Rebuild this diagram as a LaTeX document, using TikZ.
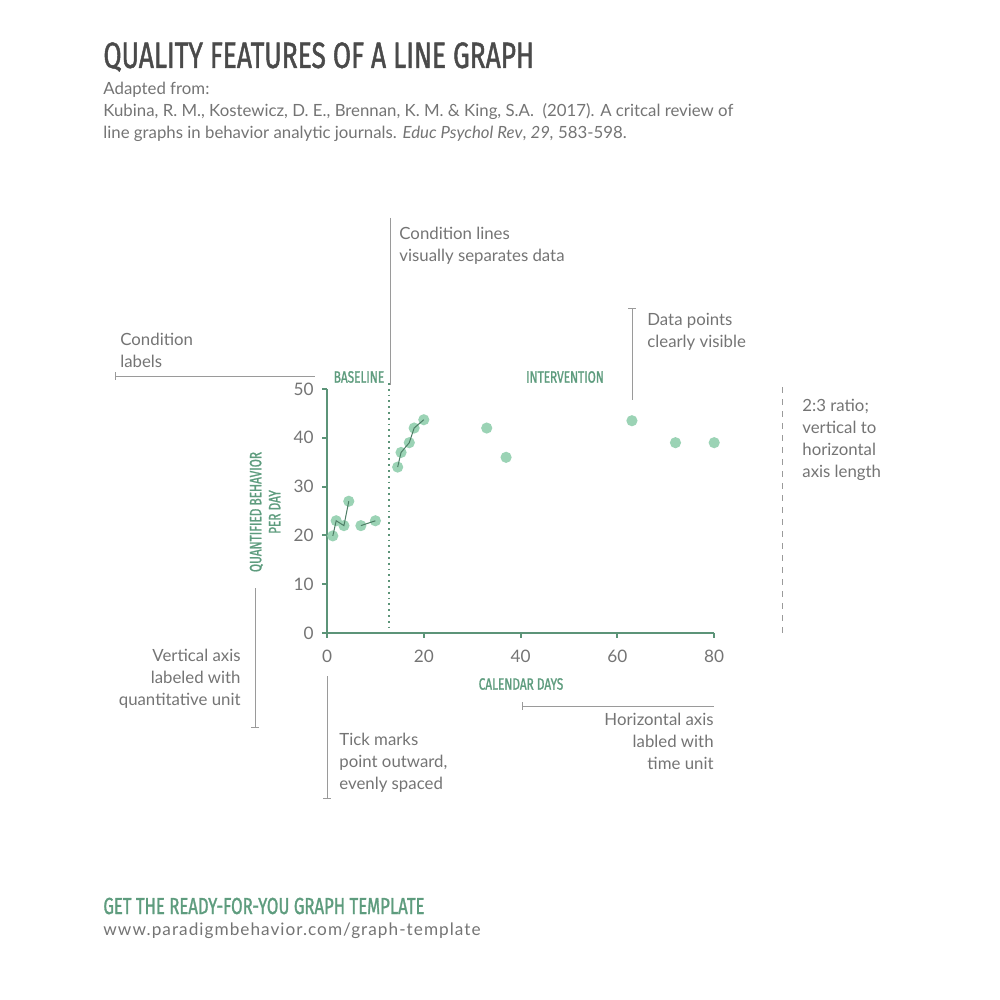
\documentclass[tikz,border=0pt]{standalone}
\usepackage{fontspec}
\setmainfont{Lato}
\newfontfamily\condb[FakeStretch=0.72,FakeBold=1.2]{Fira Sans}
\definecolor{txt}{HTML}{747474}
\definecolor{ttl}{HTML}{4A4A4A}
\definecolor{axg}{HTML}{5C9478}
\definecolor{dot}{HTML}{9BD3B5}
\definecolor{lbl}{HTML}{5E9C7E}
\definecolor{ann}{HTML}{9A9A9A}
\tikzset{
 body/.style={text=txt,font=\fontsize{8.4}{11}\selectfont,inner sep=0pt,align=left},
 glbl/.style={text=lbl,font=\condb\fontsize{8.2}{9.5}\selectfont,inner sep=0pt,align=center},
 tk/.style={text=txt,font=\fontsize{8.6}{10}\selectfont,inner sep=0pt},
 annl/.style={draw=ann,line width=0.5pt},
 pt/.style={circle,fill=dot,inner sep=0pt,minimum size=5.6pt},
 conn/.style={draw=axg!85!black,line width=0.5pt}
}
\begin{document}
\begin{tikzpicture}[x=0.5pt,y=-0.5pt]
\useasboundingbox (0,0) rectangle (1000,1000);
\node[anchor=west,inner sep=0pt,text=ttl,font=\condb\fontsize{18.3}{21}\selectfont] (title) at (103,57) {QUALITY FEATURES OF A LINE GRAPH};
\node[body,anchor=north west] (ref) at (103,82) {Adapted from:\\Kubina, R. M., Kostewicz, D. E., Brennan, K. M. \& King, S.A.\ \ (2017). A critcal review of\\line graphs in behavior analytic journals. \textit{Educ Psychol Rev}, \textit{29,} 583-598.};
% axes
\draw[axg,line width=1.3pt] (327,389) -- (327,633) -- (714,633);
\foreach \v in {0,10,...,50} {\draw[axg,line width=1pt] (327,633-4.88*\v) -- (322,633-4.88*\v);
 \node[tk,anchor=east] at (314,633-4.88*\v) {\v};}
\foreach \d in {0,20,40,60,80} {\draw[axg,line width=1pt] (327+4.84*\d,633) -- (327+4.84*\d,638);
 \node[tk] at (327+4.84*\d,656) {\d};}
\draw[axg,line width=0.9pt,dotted] (389,383) -- (389,633);
\node[glbl] (bl) at (359,377) {BASELINE};
\node[glbl] (iv) at (565,377) {INTERVENTION};
\node[glbl] (xl) at (521,684) {CALENDAR DAYS};
\node[glbl,rotate=90] (yl) at (265,512) {QUANTIFIED BEHAVIOR\\PER DAY};
% data
\foreach \n/\d/\v in {a/1.2/19.9,b/1.9/23,c/3.5/22,d/4.5/27,e/7/22,f/10/23,g/14.6/34,h/15.3/37,i/17/39,j/18/42,k/20/43.7,l/33/42,m/37/36,n/63/43.5,o/72/39,p/80/39}
 \node[pt] (\n) at (327+4.84*\d,633-4.88*\v) {};
\draw[conn] (a.center)--(b.center)--(c.center)--(d.center) (e.center)--(f.center) (g.center)--(h.center)--(i.center)--(j.center)--(k.center);
% annotations
\draw[annl] (390,218) -- (390,385);
\node[body,anchor=north west] (t1) at (399,227) {Condition lines\\visually separates data};
\draw[annl] (115,376) -- (315,376) (115,372) -- (115,380);
\node[body,anchor=north west] (t2) at (120,333) {Condition\\labels};
\draw[annl] (632,308) -- (632,400) (628,308) -- (636,308);
\node[body,anchor=north west] (t3) at (647,313) {Data points\\clearly visible};
\draw[annl,dashed] (782,387) -- (782,633);
\node[body,anchor=north west] (t4) at (802,399) {2:3 ratio;\\vertical to\\horizontal\\axis length};
\draw[annl] (255,588) -- (255,727) (251,727) -- (259,727);
\node[body,anchor=north east,align=right] (t5) at (241,649) {Vertical axis\\labeled with\\quantitative unit};
\draw[annl] (327,676) -- (327,798) (323,798) -- (331,798);
\node[body,anchor=north west] (t6) at (339,733) {Tick marks\\point outward,\\evenly spaced};
\draw[annl] (522,706) -- (714,706) (522,702) -- (522,710);
\node[body,anchor=north east,align=right] (t7) at (714,713) {Horizontal axis\\labled with\\time unit};
% footer
\node[anchor=west,inner sep=0pt,text=lbl,font=\condb\fontsize{11.6}{13}\selectfont] (ft) at (103,906) {GET THE READY-FOR-YOU GRAPH TEMPLATE};
\node[anchor=west,inner sep=0pt,text=txt,font=\addfontfeature{LetterSpace=6}\fontsize{8.6}{11}\selectfont] (url) at (103,931) {www.paradigmbehavior.com/graph-template};
\end{tikzpicture}
\end{document}
